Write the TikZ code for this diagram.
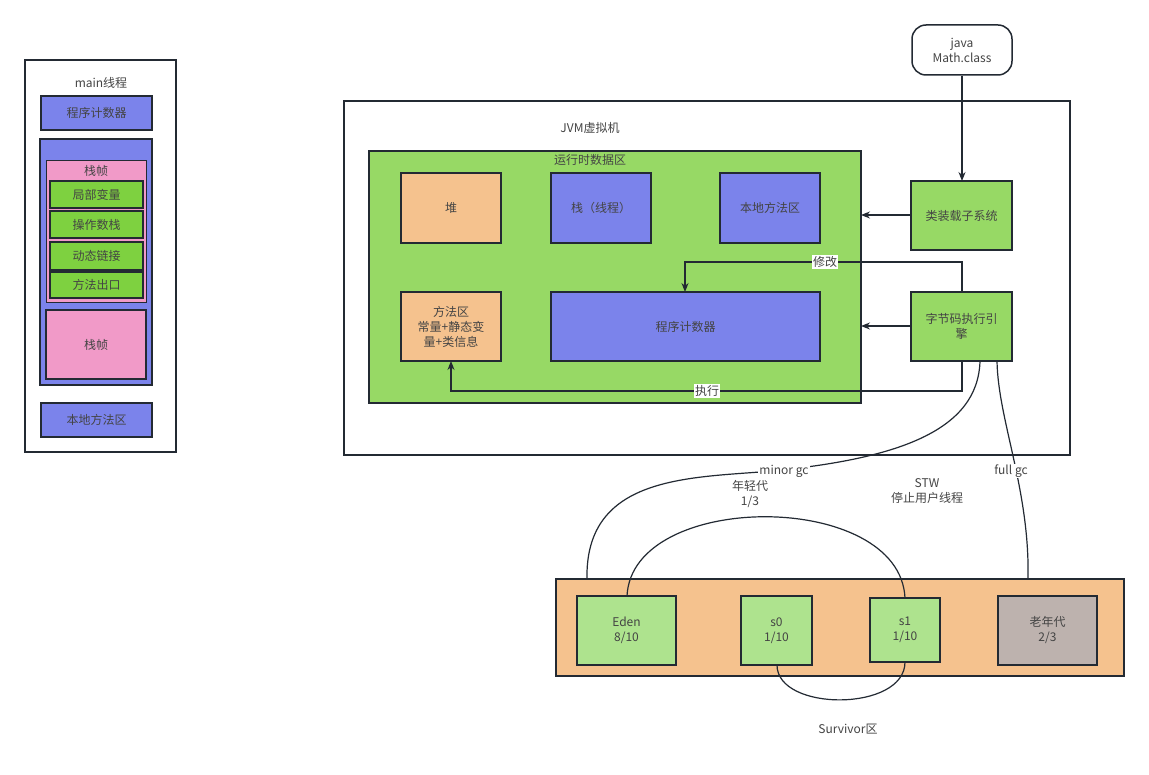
\documentclass[tikz,border=0pt]{standalone}
\usepackage{fontspec}
\setmainfont{Noto Sans CJK SC}
\usetikzlibrary{arrows.meta}
\definecolor{cblue}{HTML}{7B83EB}
\definecolor{cgreen}{HTML}{97D965}
\definecolor{cgreenb}{HTML}{7ED140}
\definecolor{clgreen}{HTML}{AEE38E}
\definecolor{corange}{HTML}{F5C28E}
\definecolor{cpink}{HTML}{F19AC8}
\definecolor{cgray}{HTML}{BDB2AE}
\definecolor{cline}{HTML}{232A33}
\definecolor{ctext}{HTML}{444444}
\tikzset{
  box/.style={draw=cline,line width=1.5pt,text=ctext,align=center},
  lbl/.style={text=ctext,align=center,inner sep=1pt},
  arr/.style={draw=cline,line width=1.2pt,-{Stealth[length=9pt,width=7pt]}},
  link/.style={draw=cline,line width=1.2pt}
}
\begin{document}
\begin{tikzpicture}[x=1pt,y=-1pt,font=\fontsize{12}{15}\selectfont]
\useasboundingbox[fill=white] (0,0) rectangle (1149,775);

% main thread
\draw[box,fill=white] (25,60) rectangle (176,452);
\node[lbl] (mainlbl) at (101,83) {main线程};
\draw[box,fill=cblue] (41,96) rectangle node (pc1) {程序计数器} (152,130);
\draw[box,fill=cblue] (40,139) rectangle (152,385);
\draw[box,fill=cpink,line width=1pt] (46,161) rectangle (146,303);
\node[lbl] (frame1) at (96,171) {栈帧};
\draw[box,fill=cgreenb] (50,181) rectangle node (lv) {局部变量} (143,208);
\draw[box,fill=cgreenb] (50,211) rectangle node (os) {操作数栈} (143,238);
\draw[box,fill=cgreenb] (50,242) rectangle node (dl) {动态链接} (143,270);
\draw[box,fill=cgreenb] (50,272) rectangle node (ra) {方法出口} (143,298);
\draw[box,fill=cpink] (46,310) rectangle node (frame2) {栈帧} (146,379);
\draw[box,fill=cblue] (41,403) rectangle node (nm1) {本地方法区} (152,437);

% JVM
\draw[box,fill=white] (344,101) rectangle (1070,455);
\node[lbl] (jvmlbl) at (590,128) {JVM虚拟机};
\draw[box,fill=cgreen] (369,151) rectangle (861,403);
\node[lbl] (rtlbl) at (590,160) {运行时数据区};
\draw[box,fill=corange] (401,173) rectangle node (heap) {堆} (501,243);
\draw[box,fill=cblue] (551,173) rectangle node (stack) {栈（线程）} (651,243);
\draw[box,fill=cblue] (720,173) rectangle node (native) {本地方法区} (820,243);
\draw[box,fill=corange] (401,292) rectangle node (method) {方法区\\常量+静态变\\量+类信息} (501,361);
\draw[box,fill=cblue] (551,292) rectangle node (pc) {程序计数器} (820,361);
\draw[box,fill=cgreen] (911,181) rectangle node (loader) {类装载子系统} (1012,250);
\draw[box,fill=cgreen] (911,292) rectangle node (engine) {字节码执行引\\擎} (1012,361);
\node[box,rounded corners=14pt,fill=white,minimum width=100pt,minimum height=50pt] (cls) at (962,50) {java\\Math.class};

\coordinate (rtl) at (861,215);
\coordinate (rte) at (861,326);
\draw[arr] (cls.south) -- (962,181);
\draw[arr] (911,215) -- (rtl);
\draw[arr] (911,326) -- (rte);
\draw[arr] (962,292) |- (685,262) -- (685,292);
\node[lbl,fill=white] (modlbl) at (825,262) {修改};
\draw[arr] (962,361) |- (451,391) -- (451,361);
\node[lbl,fill=white] (exlbl) at (707,391) {执行};

% heap generations
\draw[box,fill=corange] (556,579) rectangle (1124,676);
\draw[box,fill=clgreen] (577,596) rectangle node (eden) {Eden\\8/10} (676,665);
\draw[box,fill=clgreen] (741,596) rectangle node (s0) {s0\\1/10} (812,665);
\draw[box,fill=clgreen] (870,598) rectangle node (s1) {s1\\1/10} (940,662);
\draw[box,fill=cgray] (998,596) rectangle node (old) {老年代\\2/3} (1097,665);

\draw[link] (587,579) .. controls (585,480) and (680,478) .. (760,472)
  .. controls (900,460) and (978,430) .. (980,361);
\node[lbl,fill=white] (minor) at (784,471) {minor gc};
\draw[link] (997,361) .. controls (998,420) and (1030,490) .. (1028,579);
\node[lbl,fill=white] (full) at (1011,471) {full gc};
\draw[link] (627,596) .. controls (632,490) and (900,490) .. (905,598);
\draw[link] (777,665) .. controls (777,712) and (905,712) .. (905,662);
\node[lbl] (young) at (750,494) {年轻代\\1/3};
\node[lbl] (stw) at (927,491) {STW\\停止用户线程};
\node[lbl] (surv) at (848,729) {Survivor区};
\end{tikzpicture}
\end{document}
